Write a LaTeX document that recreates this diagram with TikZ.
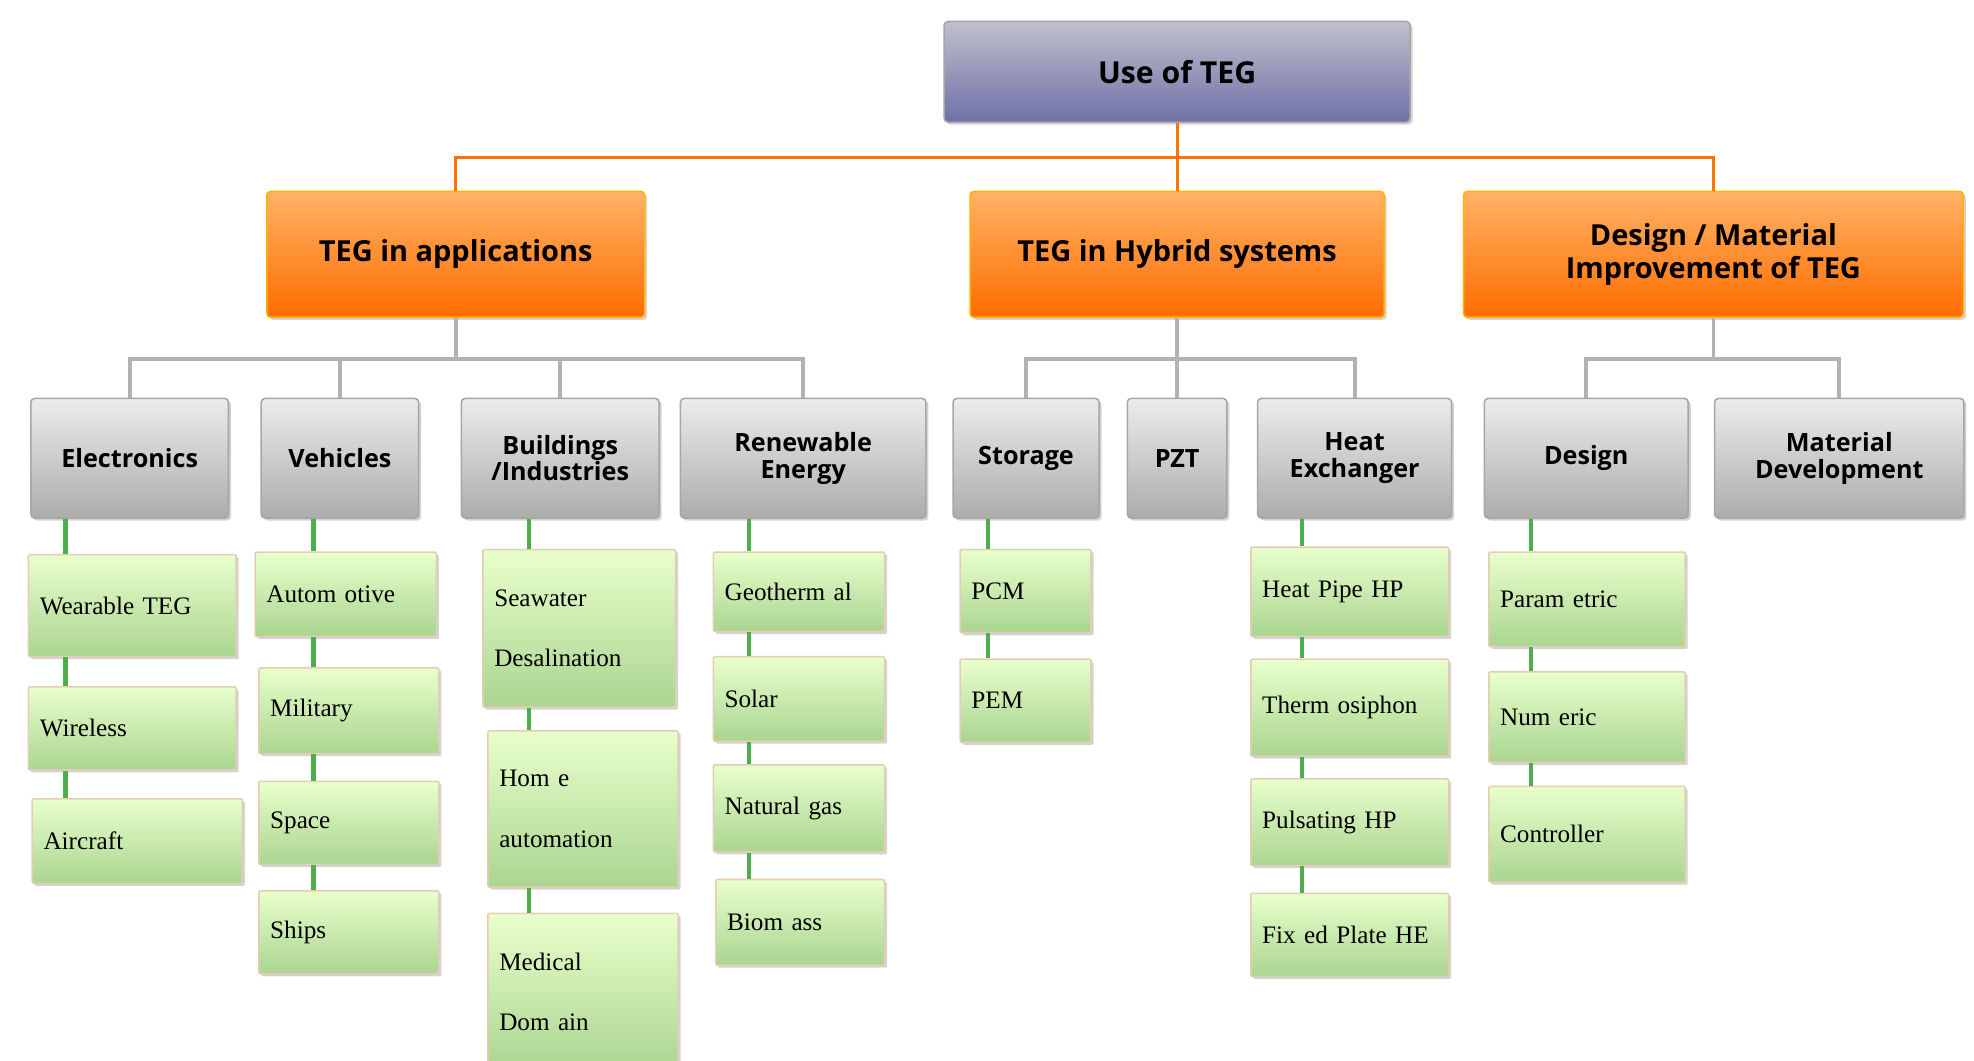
\documentclass[tikz,border=0pt]{standalone}
\usepackage{fontspec}
\setmainfont{Liberation Serif}
\newfontfamily\hd{Open Sans}
\usetikzlibrary{shadows}
\begin{document}
\begin{tikzpicture}[x=1pt,y=-1pt,
 box/.style={rounded corners=3pt,line width=1.2pt,drop shadow={shadow xshift=2pt,shadow yshift=-2pt,opacity=.35}},
 top/.style={box,draw=black!35,top color=blue!10!gray!45,bottom color=blue!25!gray!90,font=\hd\bfseries\fontsize{24}{28}\selectfont,align=center},
 org/.style={box,draw=orange!60!yellow,top color=orange!60,bottom color=orange!85!red,font=\hd\bfseries\fontsize{23}{32}\selectfont,align=center},
 gry/.style={box,draw=gray!70,top color=gray!15,bottom color=gray!65,font=\hd\bfseries\fontsize{20}{25}\selectfont,align=center},
 grn/.style={rounded corners=1pt,line width=1.2pt,draw=brown!40,top color=green!25!lime!20,bottom color=green!50!lime!45!gray!60,drop shadow={shadow xshift=2pt,shadow yshift=-2pt,opacity=.35},font=\fontsize{20}{48}\selectfont,align=left,anchor=north west,inner xsep=8pt},
 ol/.style={draw=orange!90!red,line width=2.5pt},
 gl/.style={draw=gray!60,line width=3pt},
 nl/.style={draw=green!55!black!70,line width=3.5pt}]
\useasboundingbox (0,0) rectangle (1568,842);
\node[top,minimum width=370pt,minimum height=80pt] (use) at (935,57) {Use of TEG};
\node[org,minimum width=300pt,minimum height=100pt] (app) at (362,202) {TEG in applications};
\node[org,minimum width=329pt,minimum height=100pt] (hyb) at (935,202) {TEG in Hybrid systems};
\node[org,minimum width=397pt,minimum height=100pt] (dm) at (1361,202) {Design / Material\\[-6pt]Improvement of TEG};
\draw[ol] (use.south) -- (935,125) coordinate (oj);
\draw[ol] (app.north) |- (oj) -| (dm.north);
\draw[ol] (oj) -- (hyb.north);
\foreach \n/\x/\w/\t in {ele/103/157/Electronics,veh/270/125/Vehicles,bui/445/157/{Buildings\\[-4pt]/Industries},ren/638/195/{Renewable\\[-4pt]Energy},sto/815/116/Storage,pzt/935/79/PZT,hex/1076/154/{Heat\\[-4pt]Exchanger},des/1260/162/Design,mat/1461/198/{Material\\[-4pt]Development}}
  \node[gry,minimum width=\w pt,minimum height=95pt] (\n) at (\x,364) {\t};
\draw[gl] (app.south) -- (362,285) coordinate (aj);
\draw[gl] (ele.north) |- (aj) -| (ren.north);
\draw[gl] (veh.north) -- (veh.north |- aj);
\draw[gl] (bui.north) -- (bui.north |- aj);
\draw[gl] (hyb.south) -- (935,285) coordinate (hj);
\draw[gl] (sto.north) |- (hj) -| (hex.north);
\draw[gl] (pzt.north) -- (hj);
\draw[gl] (dm.south) -- (1361,285) coordinate (dj);
\draw[gl] (des.north) |- (dj) -| (mat.north);
% green leaves: name/x/y/w/h/text
\foreach \n/\x/\y/\w/\h/\t in {
 e1/22/440/165/81/Wearable TEG,e2/22/545/165/66/Wireless,e3/25/634/167/67/Aircraft,
 v1/202/438/144/67/Autom otive,v2/205/530/143/68/Military,v3/205/620/143/66/Space,v4/205/707/143/66/Ships,
 b1/383/436/153/125/{Seawater\\Desalination},b2/387/580/151/124/{Hom e\\automation},b3/387/725/151/125/{Medical\\Dom ain},
 r1/566/438/136/63/Geotherm al,r2/566/521/136/67/Solar,r3/566/607/136/69/Natural gas,r4/568/698/134/68/Biom ass,
 s1/762/436/104/66/PCM,s2/762/523/104/66/PEM,
 h1/993/434/157/71/Heat Pipe HP,h2/993/523/157/77/Therm osiphon,h3/993/618/157/69/Pulsating HP,h4/993/709/157/66/Fix ed Plate HE,
 d1/1182/438/156/75/Param etric,d2/1182/533/156/72/Num eric,d3/1182/624/156/76/Controller}
  \node[grn,minimum width=\w pt,minimum height=\h pt,text width=\w pt-18pt] (\n) at (\x,\y) {\t};
\coordinate (xe) at (52,0); \coordinate (xv) at (249,0); \coordinate (xb) at (420,0);
\coordinate (xr) at (595,0); \coordinate (xs) at (785,0); \coordinate (xh) at (1034,0); \coordinate (xd) at (1216,0);
\draw[nl] (ele.south -| xe) -- (e1.north -| xe) (e1.south -| xe) -- (e2.north -| xe) (e2.south -| xe) -- (e3.north -| xe);
\draw[nl] (veh.south -| xv) -- (v1.north -| xv) (v1.south -| xv) -- (v2.north -| xv) (v2.south -| xv) -- (v3.north -| xv) (v3.south -| xv) -- (v4.north -| xv);
\draw[nl] (bui.south -| xb) -- (b1.north -| xb) (b1.south -| xb) -- (b2.north -| xb) (b2.south -| xb) -- (b3.north -| xb);
\draw[nl] (ren.south -| xr) -- (r1.north -| xr) (r1.south -| xr) -- (r2.north -| xr) (r2.south -| xr) -- (r3.north -| xr) (r3.south -| xr) -- (r4.north -| xr);
\draw[nl] (sto.south -| xs) -- (s1.north -| xs) (s1.south -| xs) -- (s2.north -| xs);
\draw[nl] (hex.south -| xh) -- (h1.north -| xh) (h1.south -| xh) -- (h2.north -| xh) (h2.south -| xh) -- (h3.north -| xh) (h3.south -| xh) -- (h4.north -| xh);
\draw[nl] (des.south -| xd) -- (d1.north -| xd) (d1.south -| xd) -- (d2.north -| xd) (d2.south -| xd) -- (d3.north -| xd);
\end{tikzpicture}
\end{document}
